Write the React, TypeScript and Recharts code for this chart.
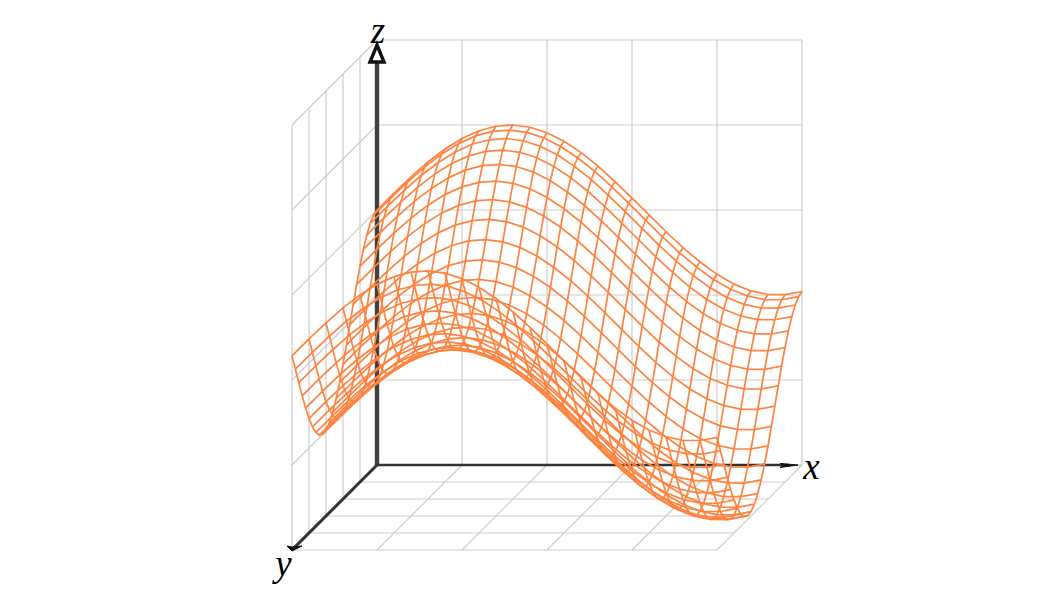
import React from 'react';
import { LineChart, Line, XAxis, YAxis, ReferenceDot } from 'recharts';

// mesh stations along x and along y (both run 0..5)
const meshSteps = [0, 0.2, 0.4, 0.6, 0.8, 1, 1.2, 1.4, 1.6, 1.8, 2, 2.2, 2.4, 2.6, 2.8, 3, 3.2, 3.4, 3.6, 3.8, 4, 4.2, 4.4, 4.6, 4.8, 5];
// height of the back edge (y = 0) at each x station
const backEdgeHeight = [3.0, 3.199, 3.389, 3.565, 3.717, 3.841, 3.932, 3.985, 4.0, 3.974, 3.909, 3.808, 3.675, 3.516, 3.335, 3.141, 2.942, 2.744, 2.557, 2.388, 2.243, 2.128, 2.048, 2.006, 2.004, 2.041];
// how far the surface drops below the back edge at each y station
const dropAlongY = [0, -0.02, -0.079, -0.175, -0.303, -0.46, -0.638, -0.83, -1.029, -1.227, -1.416, -1.589, -1.737, -1.857, -1.942, -1.99, -1.998, -1.967, -1.897, -1.791, -1.654, -1.49, -1.307, -1.112, -0.913, -0.716];
const gridTicks = [0, 1, 2, 3, 4, 5];

// oblique view of the box: y slides left and down by a fifth of a unit
const project = (x: number, y: number, z: number) => ({ px: x - 0.2 * y, pz: z - 0.2 * y });

const constantXLines = meshSteps.map((x, i) => meshSteps.map((y, j) => project(x, y, backEdgeHeight[i] + dropAlongY[j])));
const constantYLines = meshSteps.map((y, j) => meshSteps.map((x, i) => project(x, y, backEdgeHeight[i] + dropAlongY[j])));

const gridLines = [
  ...gridTicks.map((x) => [project(x, 0, 0), project(x, 0, 5)]),
  ...gridTicks.map((z) => [project(0, 0, z), project(5, 0, z)]),
  ...gridTicks.map((y) => [project(0, y, 0), project(0, y, 5)]),
  ...gridTicks.map((z) => [project(0, 0, z), project(0, 5, z)]),
  ...gridTicks.map((x) => [project(x, 0, 0), project(x, 5, 0)]),
  ...gridTicks.map((y) => [project(0, y, 0), project(5, y, 0)]),
];

const AXIS_COLOR = '#333';
const MESH_COLOR = '#ff833f';
const labelStyle = { fontFamily: '"Liberation Serif", serif', fontStyle: 'italic', fontSize: 37, fill: '#000' };

const axisLabel = (text: string) => (p: any) => (
  <text x={p.cx} y={p.cy} textAnchor="middle" dominantBaseline="middle" style={labelStyle}>{text}</text>
);
const arrowHead = (points: string, fill: string, stroke: string, strokeWidth: number) => (p: any) => (
  <polygon
    points={points.split(' ').map((q) => { const [a, b] = q.split(',').map(Number); return `${p.cx + a},${p.cy + b}`; }).join(' ')}
    fill={fill}
    stroke={stroke}
    strokeWidth={strokeWidth}
  />
);

const App: React.FC = () => {
  return (
    <div style={{ position: 'absolute', left: 0, top: 0, width: 1063, height: 600, background: '#fff' }}>
      <LineChart width={1063} height={600} margin={{ top: 40, right: 261, bottom: 50, left: 292 }}>
        <XAxis hide type="number" dataKey="px" domain={[-1, 5]} />
        <YAxis hide type="number" domain={[-1, 5]} />
        {gridLines.map((d, i) => (
          <Line key={`grid-${i}`} data={d} dataKey="pz" stroke="#cdcdcd" strokeWidth={1.2} dot={false} isAnimationActive={false} legendType="none" />
        ))}
        <Line data={[project(0, 0, 0), project(0, 0, 4.8)]} dataKey="pz" stroke="#404040" strokeWidth={4.4} dot={false} isAnimationActive={false} legendType="none" />
        <Line data={[project(0, 0, 0), project(4.85, 0, 0)]} dataKey="pz" stroke={AXIS_COLOR} strokeWidth={2.6} dot={false} isAnimationActive={false} legendType="none" />
        <Line data={[project(0, 0, 0), project(0, 4.95, 0)]} dataKey="pz" stroke={AXIS_COLOR} strokeWidth={3} dot={false} isAnimationActive={false} legendType="none" />
        <ReferenceDot x={0} y={5} ifOverflow="visible" shape={arrowHead('0,5 7,22 -7,22', '#fff', '#111', 3.4)} />
        <ReferenceDot x={5} y={0} ifOverflow="visible" shape={arrowHead('-4,0 -22,-1.5 -17,0 -22,2.5', '#111', '#111', 1)} />
        <ReferenceDot x={-1} y={-1} ifOverflow="visible" shape={arrowHead('0,1 -5,-4 0,-3 10,-4', '#111', '#111', 1)} />
        {constantXLines.map((d, i) => (
          <Line key={`x-${i}`} data={d} dataKey="pz" stroke={MESH_COLOR} strokeWidth={1.7} dot={false} isAnimationActive={false} legendType="none" />
        ))}
        {constantYLines.map((d, i) => (
          <Line key={`y-${i}`} data={d} dataKey="pz" stroke={MESH_COLOR} strokeWidth={1.7} dot={false} isAnimationActive={false} legendType="none" />
        ))}
        <ReferenceDot x={0.01} y={5.07} ifOverflow="visible" shape={axisLabel('z')} />
        <ReferenceDot x={5.11} y={-0.07} ifOverflow="visible" shape={axisLabel('x')} />
        <ReferenceDot x={-1.1} y={-1.21} ifOverflow="visible" shape={axisLabel('y')} />
      </LineChart>
    </div>
  );
};

export default App;
